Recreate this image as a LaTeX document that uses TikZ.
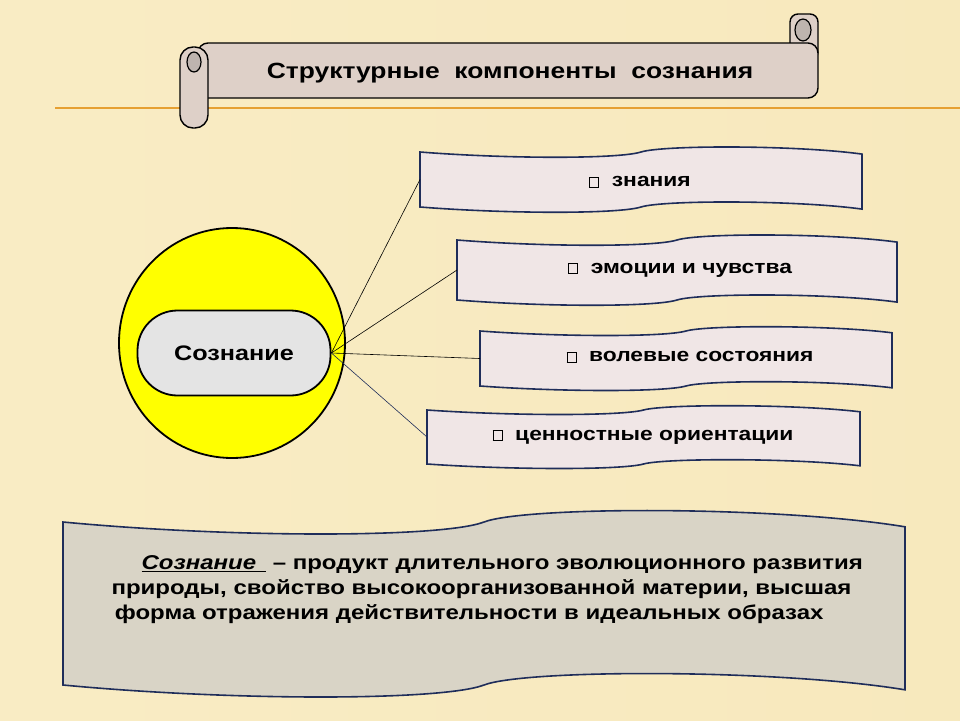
\documentclass[tikz,border=0pt]{standalone}
\usepackage{fontspec}
\setmainfont[FakeStretch=1.2]{Liberation Sans}
\usetikzlibrary{positioning, calc}
\definecolor{bgcream}{RGB}{249,236,196}
\definecolor{bgedge}{RGB}{238,214,150}
\definecolor{navyline}{RGB}{31,45,90}
\definecolor{boxpink}{RGB}{240,230,230}
\definecolor{boxgray}{RGB}{217,212,198}
\definecolor{scrollfill}{RGB}{222,208,200}
\definecolor{rollgray}{RGB}{190,180,175}
\definecolor{coreyellow}{RGB}{255,255,0}
\definecolor{coregray}{RGB}{228,228,228}
\definecolor{rulerorange}{RGB}{230,160,50}

\newcommand{\chkbox}{{\setlength{\fboxsep}{0pt}\setlength{\fboxrule}{1pt}\fbox{\hspace{8pt}\rule{0pt}{9pt}}}}

\newcommand{\wavebox}[7]{% name, x1, y1, x2, y2, amplitude, fill
  \pgfmathsetmacro{\wa}{#2+0.5*(#4-#2)}
  \pgfmathsetmacro{\wq}{#2+0.2*(#4-#2)}
  \pgfmathsetmacro{\wr}{#2+0.45*(#4-#2)}
  \pgfmathsetmacro{\ws}{#2+0.55*(#4-#2)}
  \pgfmathsetmacro{\wt}{#2+0.85*(#4-#2)}
  \draw[wavy, fill=#7] (#2,#3) .. controls (\wq,#3+#6) and (\wr,#3+#6) .. (\wa,#3)
    .. controls (\ws,#3-#6) and (\wt,#3-#6) .. (#4,#3+0.3*#6)
    -- (#4,#5+0.3*#6)
    .. controls (\wt,#5-#6) and (\ws,#5-#6) .. (\wa,#5)
    .. controls (\wr,#5+#6) and (\wq,#5+#6) .. (#2,#5) -- cycle;
  \coordinate (#1-w) at (#2,{0.5*(#3+#5)});
}

\begin{document}
\begin{tikzpicture}[x=1pt,y=-1pt,
    wavy/.style={draw=navyline, line width=1.6pt},
    item/.style={font=\fontsize{19}{22}\selectfont\bfseries},
    link/.style={draw=black, line width=0.6pt}
  ]
  \useasboundingbox (0,0) rectangle (960,720);
  \shade[left color=bgcream, right color=bgcream!85!bgedge] (0,0) rectangle (960,720);
  \draw[rulerorange, line width=1.2pt] (55,108) -- (960,108);

  % title scroll
  \draw[line width=1.4pt, fill=scrollfill, rounded corners=8pt] (790,14) rectangle (818,60);
  \draw[line width=1.2pt, fill=rollgray] (803,30) ellipse (8 and 11);
  \draw[line width=1.4pt, fill=scrollfill, rounded corners=10pt] (198,43) -- (818,43) -- (818,98) -- (198,98) -- cycle;
  \draw[line width=1.4pt, fill=scrollfill, rounded corners=13pt] (180,47) rectangle (208,128);
  \draw[line width=1.2pt, fill=rollgray] (194,62) ellipse (7 and 10);
  \node[font=\fontsize{22}{26}\selectfont\bfseries] (title) at (510,73) {Структурные \ компоненты \ сознания};

  % core
  \draw[line width=1.8pt, fill=coreyellow] (232,343) ellipse (113 and 115);
  \node[draw, line width=1.8pt, fill=coregray, rounded corners=40pt,
        minimum width=193pt, minimum height=85pt, font=\fontsize{21}{24}\selectfont\bfseries] (core) at (234,353) {Сознание};

  % components
  \wavebox{know}{420}{152}{862}{207}{7}{boxpink}
  \node[item] (knowt) at (640,182) {\chkbox\ \ знания};
  \wavebox{emo}{457}{240}{897}{300}{7}{boxpink}
  \node[item] (emot) at (680,270) {\chkbox\ \ эмоции и чувства};
  \wavebox{will}{480}{331}{892}{386}{6}{boxpink}
  \node[item] (willt) at (690,357) {\chkbox\ \ волевые состояния};
  \wavebox{val}{427}{410}{860}{464}{6}{boxpink}
  \node[item] (valt) at (643,437) {\chkbox\ \ ценностные ориентации};

  \draw[link] (core.east) -- (know-w);
  \draw[link] (core.east) -- (emo-w);
  \draw[link] (core.east) -- (will-w);
  \draw[link, navyline] (core.east) -- (val-w);

  % definition
  \wavebox{def}{63}{522}{905}{685}{16}{boxgray}
  \node[anchor=west, align=left, font=\fontsize{20}{25}\selectfont\bfseries] (deft) at (108,590)
    {\hspace*{1.5em}\underline{\textit{Сознание}\ \,} – продукт длительного эволюционного развития\\
     природы, свойство высокоорганизованной материи, высшая\\
     \,форма отражения действительности в идеальных образах};
\end{tikzpicture}
\end{document}
